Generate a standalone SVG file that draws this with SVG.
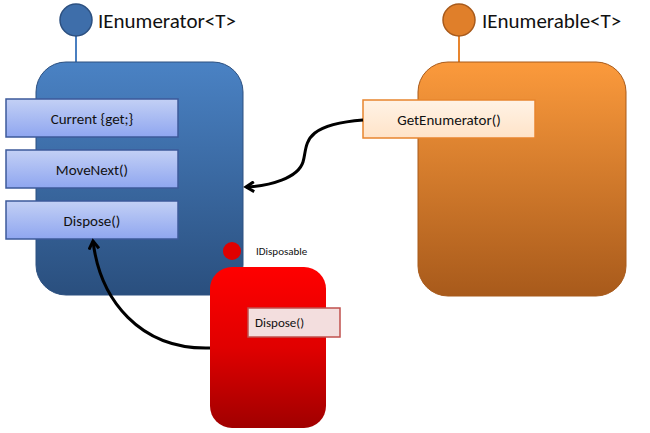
<svg xmlns="http://www.w3.org/2000/svg" width="650" height="433" viewBox="0 0 650 433">
<defs>
<linearGradient id="gb" x1="0" y1="0" x2="0" y2="1"><stop offset="0" stop-color="#4a82c4"/><stop offset="1" stop-color="#2a4f7e"/></linearGradient>
<linearGradient id="go" x1="0" y1="0" x2="0" y2="1"><stop offset="0" stop-color="#fb9a3c"/><stop offset="1" stop-color="#a85a1b"/></linearGradient>
<linearGradient id="gr" x1="0" y1="0" x2="0" y2="1"><stop offset="0" stop-color="#ff0000"/><stop offset="0.5" stop-color="#e00000"/><stop offset="1" stop-color="#a00000"/></linearGradient>
<linearGradient id="gi" x1="0" y1="0" x2="0" y2="1"><stop offset="0" stop-color="#c3d0f5"/><stop offset="1" stop-color="#8fa6f0"/></linearGradient>
<linearGradient id="gg" x1="0" y1="0" x2="0" y2="1"><stop offset="0" stop-color="#fff3e6"/><stop offset="1" stop-color="#ffe3c8"/></linearGradient>
<marker id="ah" markerWidth="12" markerHeight="12" refX="9" refY="6" orient="auto" markerUnits="userSpaceOnUse"><path d="M1,1 L9,6 L1,11" fill="none" stroke="#000" stroke-width="3"/></marker>
</defs>
<style>
text{font-family:Calibri,"Liberation Sans",sans-serif;fill:#111}
.item{fill:url(#gi);stroke:#3c5a9a;stroke-width:1.5}
.t{font-size:15px;text-anchor:middle}
.title{font-size:21px}
.conn{fill:none;stroke:#000;stroke-width:3;marker-end:url(#ah)}
</style>
<g id="ienumerator">
<line x1="76" y1="36" x2="76" y2="63" stroke="#4a7fc0" stroke-width="2"/>
<circle cx="76" cy="20" r="16" fill="#3e6eaa" stroke="#2c5080" stroke-width="1.5"/>
<text x="98" y="28" class="title">IEnumerator&lt;T&gt;</text>
<rect x="36" y="62" width="207" height="233" rx="30" fill="url(#gb)" stroke="#2c5080"/>
</g>
<g id="current"><rect class="item" x="6" y="99" width="172" height="38"/><text class="t" x="92" y="124">Current {get;}</text></g>
<g id="movenext"><rect class="item" x="6" y="150" width="172" height="38"/><text class="t" x="92" y="175">MoveNext()</text></g>
<g id="dispose1"><rect class="item" x="6" y="201" width="172" height="38"/><text class="t" x="92" y="226">Dispose()</text></g>
<g id="ienumerable">
<line x1="459" y1="36" x2="459" y2="63" stroke="#e8852e" stroke-width="2"/>
<circle cx="459" cy="20" r="16" fill="#e07f2a" stroke="#a85a1b" stroke-width="1.5"/>
<text x="482" y="28" class="title">IEnumerable&lt;T&gt;</text>
<rect x="418" y="62" width="208" height="234" rx="30" fill="url(#go)" stroke="#a85a1b"/>
</g>
<g id="getenum"><rect x="363" y="100" width="172" height="38" fill="url(#gg)" stroke="#e8852e" stroke-width="1.5"/><text class="t" x="449" y="125">GetEnumerator()</text></g>
<g id="idisposable">
<circle cx="232" cy="251" r="9" fill="#e00000"/>
<text x="256" y="255" font-size="11">IDisposable</text>
<rect x="210" y="267" width="116" height="161" rx="22" fill="url(#gr)"/>
</g>
<g id="dispose2"><rect x="248" y="308" width="92" height="29" fill="#f3dede" stroke="#c0504d" stroke-width="1.5"/><text x="255" y="327" font-size="13">Dispose()</text></g>
<g id="connectors">
<path class="conn" d="M363,120 C300,125 308,145 303,162 C298,178 270,186 246,187"/>
<path class="conn" d="M210,348 C140,350 100,300 93,241"/>
</g>
</svg>
